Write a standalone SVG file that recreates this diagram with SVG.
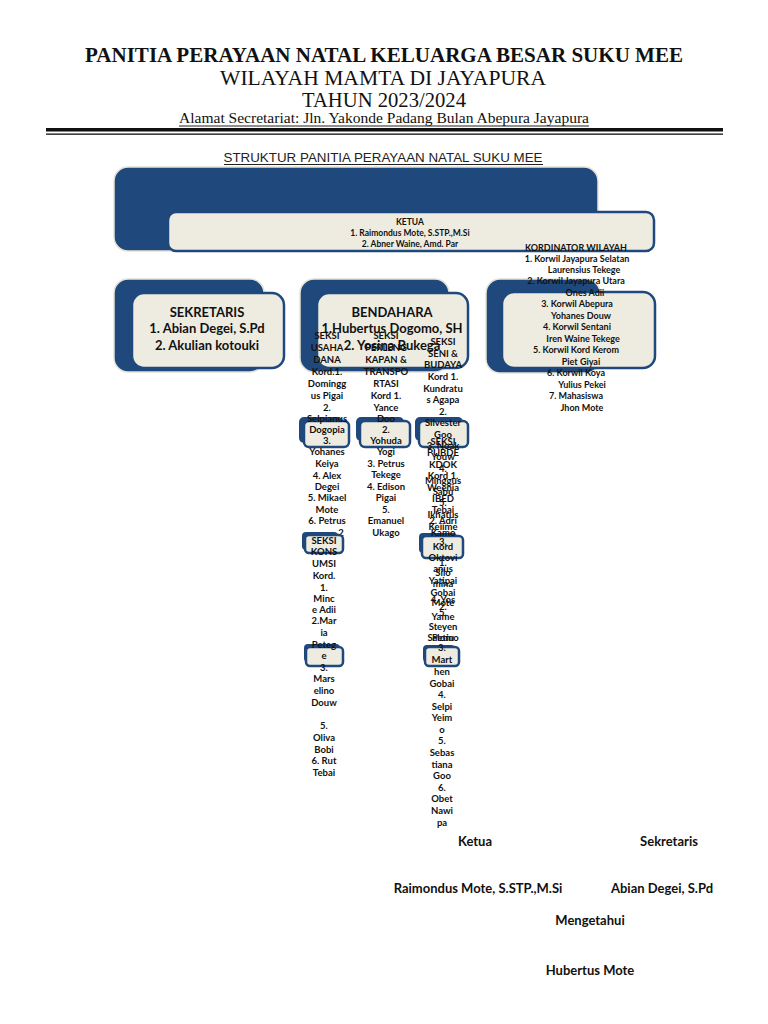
<svg xmlns="http://www.w3.org/2000/svg" width="768" height="1024" viewBox="0 0 768 1024">
<style>
.blue{fill:#1f497d;stroke:#e6e2d6;stroke-width:1.5}
.cream{fill:#eeece1;stroke:#1f497d;stroke-width:2.5}
.sb{fill:#1f497d}
.sc{fill:#eeece1;stroke:#1f497d;stroke-width:2.5}
.t{font-family:Lato,"Liberation Sans",sans-serif;font-weight:bold;fill:#111;text-anchor:middle}
.s8{font-size:8.5px}
.s85{font-size:9px}
.s9{font-size:9.5px}
.s12{font-size:13px}
.serif{font-family:"Liberation Serif",serif;fill:#111;text-anchor:middle}
</style>
<rect width="768" height="1024" fill="#fff"/>
<g id="header">
<text class="serif" x="384" y="62" font-size="20.5" font-weight="bold" textLength="598" lengthAdjust="spacingAndGlyphs">PANITIA PERAYAAN NATAL KELUARGA BESAR SUKU MEE</text>
<text class="serif" x="383" y="85" font-size="21" textLength="326" lengthAdjust="spacingAndGlyphs">WILAYAH MAMTA DI JAYAPURA</text>
<text class="serif" x="384" y="107" font-size="21" textLength="164" lengthAdjust="spacingAndGlyphs">TAHUN 2023/2024</text>
<text class="serif" x="384" y="123" font-size="15" textLength="410" lengthAdjust="spacingAndGlyphs">Alamat Secretariat: Jln. Yakonde Padang Bulan Abepura Jayapura</text>
<rect x="179" y="125.5" width="410" height="1" fill="#222"/>
<rect x="46" y="128" width="677" height="3.5" fill="#111"/>
<rect x="46" y="133.5" width="677" height="1.3" fill="#111"/>
<text x="383" y="162" font-family="'Liberation Sans',Arial,sans-serif" font-size="13.5" fill="#222" text-anchor="middle" textLength="319" lengthAdjust="spacingAndGlyphs">STRUKTUR PANITIA PERAYAAN NATAL SUKU MEE</text>
<rect x="224" y="164" width="319" height="1" fill="#222"/>
</g>
<g id="connectors"></g>
<g id="ketua">
<rect class="blue" x="114" y="167" width="484" height="84" rx="14"/>
<rect class="cream" x="168" y="212" width="486" height="39" rx="8"/>
</g>
<g id="sekretaris">
<rect class="blue" x="114" y="279" width="150" height="93" rx="14"/>
<rect class="cream" x="132" y="293" width="152" height="75" rx="12"/>
<text class="t s12"><tspan x="207" y="316.5">SEKRETARIS</tspan><tspan x="207" y="332.5">1. Abian Degei, S.Pd</tspan><tspan x="207" y="349.5">2. Akulian kotouki</tspan></text>
</g>
<g id="bendahara">
<rect class="blue" x="300" y="279" width="149" height="93" rx="14"/>
<rect class="cream" x="317" y="293" width="151" height="75" rx="12"/>
<text class="t s12"><tspan x="392" y="316.5">BENDAHARA</tspan><tspan x="392" y="332.5">1.Hubertus Dogomo, SH</tspan><tspan x="392" y="349.5">2. Yosina Bukega</tspan></text>
</g>
<g id="kordinator-box">
<rect class="blue" x="486" y="279" width="114" height="94" rx="14"/>
<rect class="cream" x="502" y="292" width="153" height="76" rx="12"/>
</g>
<g id="ketua-text">
<text class="t s8"><tspan x="410" y="225">KETUA</tspan><tspan x="410" y="236">1. Raimondus Mote, S.STP.,M.Si</tspan><tspan x="410" y="247">2. Abner Waine, Amd. Par</tspan></text>
</g>
<g id="kordinator">
<text class="t s85"><tspan x="576" y="251">KORDINATOR WILAYAH</tspan><tspan x="577" y="262">1. Korwil Jayapura Selatan</tspan><tspan x="584" y="273">Laurensius Tekege</tspan><tspan x="576" y="284">2. Korwil Jayapura Utara</tspan><tspan x="585" y="296">Ones Adii</tspan><tspan x="577" y="307">3. Korwil Abepura</tspan><tspan x="581" y="319">Yohanes Douw</tspan><tspan x="577" y="330">4. Korwil Sentani</tspan><tspan x="583" y="342">Iren Waine Tekege</tspan><tspan x="576" y="353">5. Korwil Kord Kerom</tspan><tspan x="581" y="365">Piet Giyai</tspan><tspan x="576" y="376">6. Korwil Koya</tspan><tspan x="582" y="388">Yulius Pekei</tspan><tspan x="576" y="399">7. Mahasiswa</tspan><tspan x="582" y="411">Jhon Mote</tspan></text>
</g>
<g id="small-boxes">
<rect class="sb" x="299" y="417" width="44" height="26" rx="5"/>
<rect class="sc" x="304" y="421" width="45" height="26" rx="5"/>
<rect class="sb" x="356" y="417" width="48" height="24" rx="5"/>
<rect class="sc" x="360" y="421" width="50" height="26" rx="5"/>
<rect class="sb" x="415" y="417" width="48" height="24" rx="5"/>
<rect class="sc" x="419" y="421" width="49" height="26" rx="5"/>
</g>
<g id="seksi-usaha-dana">
<text class="t s9"><tspan x="327" y="339">SEKSI</tspan><tspan x="327" y="351">USAHA</tspan><tspan x="327" y="363">DANA</tspan><tspan x="327" y="375">Kord.1.</tspan><tspan x="327" y="387">Domingg</tspan><tspan x="327" y="399">us Pigai</tspan><tspan x="327" y="411">2.</tspan><tspan x="327" y="422">Selpianus</tspan><tspan x="327" y="433">Dogopia</tspan><tspan x="327" y="444">3.</tspan><tspan x="327" y="455">Yohanes</tspan><tspan x="327" y="467">Keiya</tspan><tspan x="327" y="479">4. Alex</tspan><tspan x="327" y="490">Degei</tspan><tspan x="327" y="501">5. Mikael</tspan><tspan x="327" y="513">Mote</tspan><tspan x="327" y="524">6. Petrus</tspan><tspan x="341" y="536">2</tspan></text>
</g>
<g id="seksi-perlengkapan">
<text class="t s9"><tspan x="386" y="339">SEKSI</tspan><tspan x="386" y="351">PERLENG</tspan><tspan x="386" y="363">KAPAN &amp;</tspan><tspan x="386" y="375">TRANSPO</tspan><tspan x="386" y="387">RTASI</tspan><tspan x="386" y="399">Kord  1.</tspan><tspan x="386" y="411">Yance</tspan><tspan x="386" y="422">Doo</tspan><tspan x="386" y="433">2.</tspan><tspan x="386" y="444">Yohuda</tspan><tspan x="386" y="455">Yogi</tspan><tspan x="386" y="467">3. Petrus</tspan><tspan x="386" y="478">Tekege</tspan><tspan x="386" y="490">4. Edison</tspan><tspan x="386" y="501">Pigai</tspan><tspan x="386" y="513">5.</tspan><tspan x="386" y="524">Emanuel</tspan><tspan x="386" y="536">Ukago</tspan></text>
</g>
<g id="seksi-seni-budaya">
<text class="t s9"><tspan x="443" y="345">SEKSI</tspan><tspan x="443" y="357">SENI &amp;</tspan><tspan x="443" y="368">BUDAYA</tspan><tspan x="443" y="380">Kord 1.</tspan><tspan x="443" y="392">Kundratu</tspan><tspan x="443" y="403">s  Agapa</tspan><tspan x="443" y="415">2.</tspan><tspan x="443" y="426">Silvester</tspan><tspan x="443" y="438">Goo</tspan><tspan x="443" y="449">3. Noak</tspan><tspan x="443" y="460">Youw</tspan><tspan x="443" y="472">4.</tspan><tspan x="443" y="484">Minggus</tspan><tspan x="443" y="495">Sabu</tspan><tspan x="443" y="506">5.</tspan><tspan x="443" y="518">Ikhatus</tspan><tspan x="443" y="530">Keiime</tspan></text>
</g>
<g id="lower-boxes">
<rect class="sb" x="302" y="532" width="36" height="18" rx="4"/>
<rect class="sc" x="305" y="535" width="38" height="18" rx="4"/>
<rect class="sb" x="419" y="533" width="38" height="20" rx="4"/>
<rect class="sc" x="422" y="536" width="41" height="22" rx="4"/>
<rect class="sb" x="304" y="644" width="36" height="18" rx="4"/>
<rect class="sc" x="306" y="647" width="37" height="19" rx="4"/>
<rect class="sb" x="423" y="645" width="32" height="17" rx="4"/>
<rect class="sc" x="425" y="647" width="34" height="19" rx="4"/>
</g>
<g id="seksi-pubdekdok">
<text class="t s9"><tspan x="443" y="445">SEKSI</tspan><tspan x="443" y="456">PUBDE</tspan><tspan x="443" y="468">KDOK</tspan><tspan x="443" y="479">Kord  1.</tspan><tspan x="443" y="491">Weenia</tspan><tspan x="443" y="502">IBED</tspan><tspan x="443" y="513">Tebai</tspan><tspan x="443" y="524">2. Adri</tspan><tspan x="443" y="536">Kamo</tspan><tspan x="443" y="545">3.</tspan></text>
</g>
<g id="seksi-konsumsi">
<text class="t s9"><tspan x="324" y="544">SEKSI</tspan><tspan x="324" y="555">KONS</tspan><tspan x="324" y="567">UMSI</tspan><tspan x="324" y="579">Kord.</tspan><tspan x="324" y="591">1.</tspan><tspan x="324" y="602">Minc</tspan><tspan x="324" y="613">e Adii</tspan><tspan x="324" y="624">2.Mar</tspan><tspan x="324" y="636">ia</tspan><tspan x="324" y="648">Peteg</tspan><tspan x="324" y="659">e</tspan><tspan x="324" y="671">3.</tspan><tspan x="324" y="682">Mars</tspan><tspan x="324" y="694">elino</tspan><tspan x="324" y="706">Douw</tspan><tspan x="324" y="729">5.</tspan><tspan x="324" y="741">Oliva</tspan><tspan x="324" y="753">Bobi</tspan><tspan x="324" y="764">6. Rut</tspan><tspan x="324" y="776">Tebai</tspan></text>
</g>
<g id="seksi-col3-lower">
<text class="t s9"><tspan x="443" y="550">Kord</tspan><tspan x="443" y="561">Oktovi</tspan><tspan x="443" y="572">anus</tspan><tspan x="443" y="584">Yatipai</tspan><tspan x="443" y="610">2.</tspan><tspan x="443" y="620">Yame</tspan><tspan x="443" y="641">Salomo</tspan><tspan x="442" y="651">3.</tspan><tspan x="442" y="663">Mart</tspan><tspan x="442" y="675">hen</tspan><tspan x="442" y="687">Gobai</tspan><tspan x="442" y="698">4.</tspan><tspan x="442" y="710">Selpi</tspan><tspan x="442" y="721">Yeim</tspan><tspan x="442" y="733">o</tspan><tspan x="442" y="744">5.</tspan><tspan x="442" y="756">Sebas</tspan><tspan x="442" y="768">tiana</tspan><tspan x="442" y="779">Goo</tspan><tspan x="442" y="791">6.</tspan><tspan x="442" y="802">Obet</tspan><tspan x="442" y="814">Nawi</tspan><tspan x="442" y="826">pa</tspan></text>
<text class="t s9"><tspan x="443" y="566">1.</tspan><tspan x="443" y="576">Silo</tspan><tspan x="443" y="587">mina</tspan><tspan x="443" y="596">Gobai</tspan><tspan x="443" y="603">4. Yos</tspan><tspan x="443" y="606">Mote</tspan><tspan x="443" y="616">5.</tspan><tspan x="443" y="630">Steyen</tspan><tspan x="443" y="641">Petiu</tspan></text>
</g>
<g id="signatures">
<text class="t s12"><tspan x="475" y="846">Ketua</tspan><tspan x="669" y="846">Sekretaris</tspan><tspan x="478" y="893">Raimondus Mote, S.STP.,M.Si</tspan><tspan x="662" y="893">Abian Degei, S.Pd</tspan><tspan x="590" y="925">Mengetahui</tspan><tspan x="590" y="975">Hubertus Mote</tspan></text>
</g>
</svg>
